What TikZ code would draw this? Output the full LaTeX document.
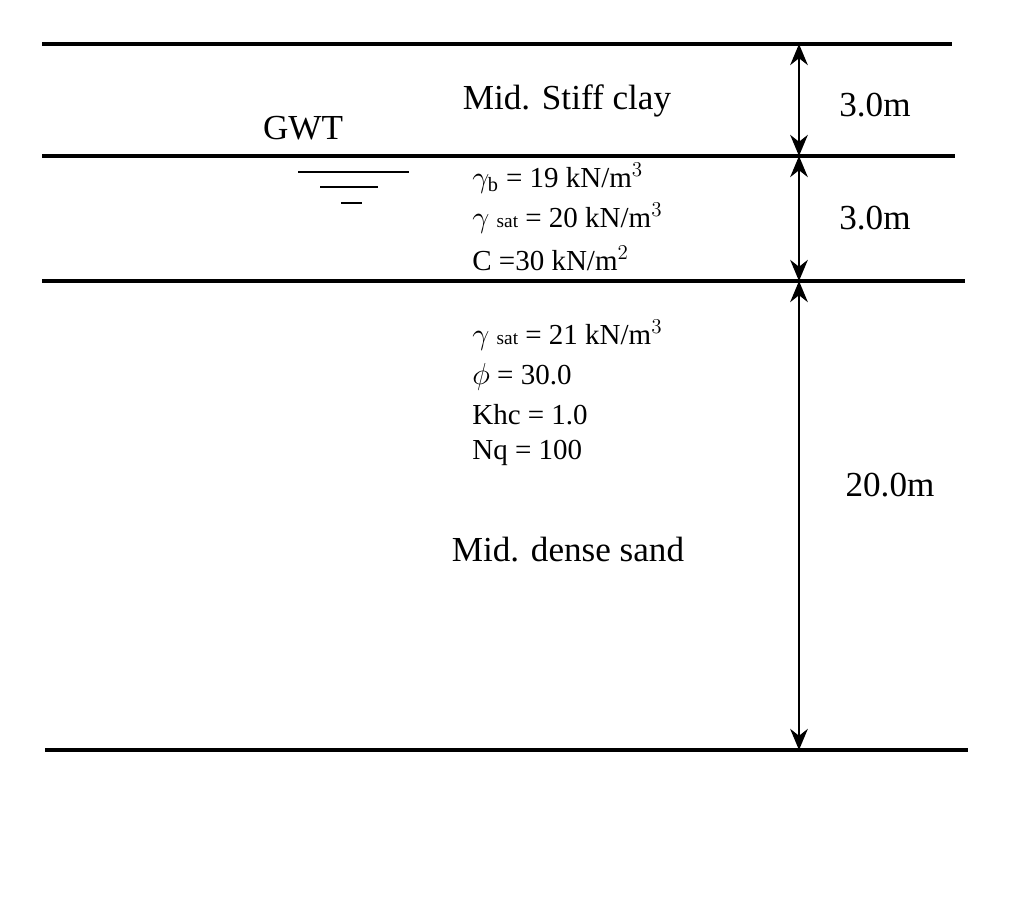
\documentclass[tikz,border=0pt]{standalone}
\usepackage{fontspec}
\setmainfont{Liberation Serif}
\usetikzlibrary{arrows.meta}
\begin{document}
\begin{tikzpicture}[x=0.02cm,y=-0.02cm,
  layer/.style={line width=1.8pt},
  dim/.style={line width=1.4pt,{Stealth[length=12pt,width=10pt]}-{Stealth[length=12pt,width=10pt]}},
  big/.style={font=\fontsize{20}{24}\selectfont},
  prop/.style={font=\fontsize{16.5}{20}\selectfont,anchor=west,inner sep=0pt}]
\useasboundingbox (0,0) rectangle (1024,899);
\coordinate (l1a) at (42,44);  \coordinate (l1b) at (952,44);
\coordinate (l2a) at (42,156); \coordinate (l2b) at (955,156);
\coordinate (l3a) at (42,281); \coordinate (l3b) at (965,281);
\coordinate (l4a) at (45,750); \coordinate (l4b) at (968,750);
\draw[layer] (l1a) -- (l1b);
\draw[layer] (l2a) -- (l2b);
\draw[layer] (l3a) -- (l3b);
\draw[layer] (l4a) -- (l4b);
\coordinate (d1) at (799,44); \coordinate (d2) at (799,156);
\coordinate (d3) at (799,281); \coordinate (d4) at (799,750);
\draw[dim] (d1) -- (d2);
\draw[dim] (d2) -- (d3);
\draw[dim] (d3) -- (d4);
\node[big] (h1) at (875,105) {3.0m};
\node[big] (h2) at (875,218) {3.0m};
\node[big] (h3) at (890,485) {20.0m};
\node[big] (clay) at (567,101) {Mid. Stiff clay};
\node[big] (gwt) at (303,128) {GWT};
\coordinate (w1a) at (298,172); \coordinate (w1b) at (409,172);
\coordinate (w2a) at (320,187); \coordinate (w2b) at (378,187);
\coordinate (w3a) at (341,203); \coordinate (w3b) at (362,203);
\draw[line width=1.2pt] (w1a) -- (w1b);
\draw[line width=1.2pt] (w2a) -- (w2b);
\draw[line width=1.2pt] (w3a) -- (w3b);
\node[prop] (p1) at (472,178) {$\gamma_{\mathrm{b}}$ = 19 kN/m$^3$};
\node[prop] (p2) at (472,218) {$\gamma$ {\fontsize{11}{12}\selectfont sat} = 20 kN/m$^3$};
\node[prop] (p3) at (472,258) {C =30 kN/m$^2$};
\node[prop] (q1) at (472,335) {$\gamma$ {\fontsize{11}{12}\selectfont sat} = 21 kN/m$^3$};
\node[prop] (q2) at (472,377) {$\phi$ = 30.0};
\node[prop] (q3) at (472,415) {Khc = 1.0};
\node[prop] (q4) at (472,453) {Nq = 100};
\node[big] (sand) at (568,550) {Mid. dense sand};
\end{tikzpicture}
\end{document}
